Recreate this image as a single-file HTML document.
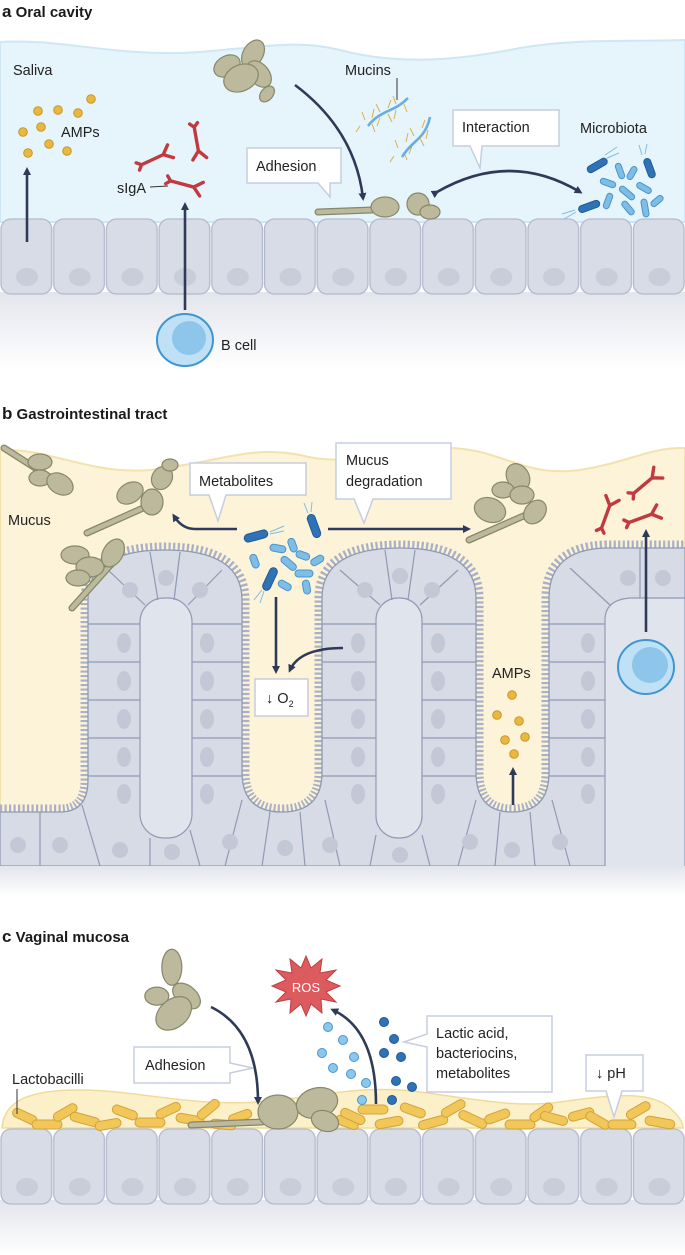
<!DOCTYPE html>
<html><head><meta charset="utf-8"><style>
html,body{margin:0;padding:0;background:#fff}
svg{display:block}
text{font-family:"Liberation Sans",sans-serif;fill:#222}
.t{font-size:15px;font-weight:bold;fill:#1a1a1a}
.l{font-size:14.5px}
.box{fill:#fff;stroke:#c7cde0;stroke-width:1.5}
.arr{fill:none;stroke:#2e3b58;stroke-width:2.6}
.fu{fill:#bcb99c;stroke:#87876a;stroke-width:1.2}
.hy{fill:none;stroke:#87876a;stroke-width:7;stroke-linecap:round}
.hy2{fill:none;stroke:#bcb99c;stroke-width:4.5;stroke-linecap:round}
.ab{fill:none;stroke:#c03a40;stroke-width:3.4;stroke-linecap:round}
.bl{fill:#7dbde6;stroke:#4b95cc;stroke-width:1}
.bd{fill:#2f73b6;stroke:#1f5a96;stroke-width:1}
.lb{fill:#f0c758;stroke:#d3a23a;stroke-width:1}
.y{fill:#e9b83e;stroke:#c8962a;stroke-width:1}
</style></head><body>
<svg width="685" height="1255" viewBox="0 0 685 1255" xmlns="http://www.w3.org/2000/svg">
<defs>
<marker id="ah" markerWidth="8" markerHeight="8" refX="5" refY="4" orient="auto" markerUnits="userSpaceOnUse">
<path d="M0,0 L8,4 L0,8 Z" fill="#2e3b58"/></marker>
<pattern id="cellA" patternUnits="userSpaceOnUse" x="0" y="218" width="52.7" height="77">
<rect x="1" y="1" width="50.7" height="75" rx="10" fill="#d8dce6" stroke="#b3b9cc" stroke-width="1.3"/>
<ellipse cx="27" cy="59" rx="11" ry="9" fill="#c8cdd9"/></pattern>
<pattern id="cellC" patternUnits="userSpaceOnUse" x="0" y="1128" width="52.7" height="77">
<rect x="1" y="1" width="50.7" height="75" rx="10" fill="#d8dce6" stroke="#b3b9cc" stroke-width="1.3"/>
<ellipse cx="27" cy="59" rx="11" ry="9" fill="#c8cdd9"/></pattern>
<linearGradient id="gA" x1="0" y1="0" x2="0" y2="1"><stop offset="0" stop-color="#e2e5ec"/><stop offset="1" stop-color="#fff"/></linearGradient>
<g id="fcl">
<ellipse class="fu" cx="-18" cy="-2" rx="14" ry="10" transform="rotate(-30 -18 -2)"/>
<ellipse class="fu" cx="8" cy="-14" rx="10" ry="15" transform="rotate(30 8 -14)"/>
<ellipse class="fu" cx="14" cy="6" rx="10" ry="15" transform="rotate(-40 14 6)"/>
<ellipse class="fu" cx="-4" cy="10" rx="18" ry="13" transform="rotate(-25 -4 10)"/>
<ellipse class="fu" cx="22" cy="26" rx="6" ry="9" transform="rotate(40 22 26)"/>
</g>
<g id="ab1"><path class="ab" d="M-16,0 L8,0 M8,0 L16,-7 M8,0 L16,7 M-16,0 L-20,-4 M-16,0 L-20,4"/></g>
</defs>

<!-- ===== Panel a ===== -->
<text x="2" y="17" class="t"><tspan font-size="17">a</tspan> Oral cavity</text>
<path d="M0,42 C60,38 120,58 200,52 C270,46 300,40 340,50 C400,66 460,60 520,48 C580,38 630,42 685,40 L685,222 L0,222 Z" fill="#e6f4fc" stroke="#cfe6f5" stroke-width="2"/>
<rect x="0" y="292" width="685" height="78" fill="url(#gA)"/>
<rect x="0" y="218" width="685" height="77" fill="url(#cellA)"/>
<text x="13" y="75" class="l">Saliva</text>
<text x="61" y="137" class="l">AMPs</text>
<g class="y">
<circle cx="91" cy="99" r="4.3"/><circle cx="38" cy="111" r="4.3"/><circle cx="58" cy="110" r="4.3"/><circle cx="78" cy="113" r="4.3"/>
<circle cx="23" cy="132" r="4.3"/><circle cx="41" cy="127" r="4.3"/><circle cx="49" cy="144" r="4.3"/><circle cx="67" cy="151" r="4.3"/><circle cx="28" cy="153" r="4.3"/></g>
<line x1="27" y1="242" x2="27" y2="170" class="arr" marker-end="url(#ah)"/>
<use href="#ab1" transform="translate(197,143) rotate(80)"/>
<use href="#ab1" transform="translate(156,158) rotate(-25)"/>
<use href="#ab1" transform="translate(186,185) rotate(15)"/>
<text x="117" y="193" class="l">sIgA</text><line x1="150" y1="187" x2="168" y2="186" stroke="#333" stroke-width="1"/>
<line x1="185" y1="310" x2="185" y2="205" class="arr" marker-end="url(#ah)"/>
<ellipse cx="185" cy="340" rx="28" ry="26" fill="#bfe0f5" stroke="#3d95d2" stroke-width="2"/>
<ellipse cx="189" cy="338" rx="17" ry="17" fill="#8ec5ea"/>
<text x="221" y="350" class="l">B cell</text>
<use href="#fcl" transform="translate(245,68)"/>
<path d="M295,85 Q355,130 363,198" class="arr" marker-end="url(#ah)"/>
<text x="345" y="75" class="l">Mucins</text>
<line x1="397" y1="78" x2="397" y2="100" stroke="#333" stroke-width="1"/>
<g stroke="#e0ad48" stroke-width="1" fill="none">
<path d="M365,120 l-3,-8 M372,118 l2,-9 M380,112 l-4,-8 M388,108 l3,-8 M396,104 l-3,-8 M372,124 l3,8 M380,118 l-3,8 M388,114 l4,8 M396,110 l-2,9 M404,104 l3,8 M360,126 l-4,6"/>
<path d="M398,148 l-3,-8 M406,142 l2,-9 M414,136 l-4,-8 M422,128 l3,-8 M404,152 l3,8 M412,146 l-3,8 M420,138 l4,8 M428,130 l-2,9 M394,156 l-4,6"/></g>
<path d="M368,126 C380,110 395,112 408,98" stroke="#6aaee0" stroke-width="2.6" fill="none"/>
<path d="M402,157 C412,140 425,140 430,117" stroke="#6aaee0" stroke-width="2.6" fill="none"/>
<path d="M453,110 H559 V146 H482 L480,168 L470,146 H453 Z" class="box"/>
<text x="462" y="132" class="l">Interaction</text>
<text x="580" y="133" class="l">Microbiota</text>
<path d="M437,192 Q510,150 580,192" class="arr" marker-start="url(#ah)" marker-end="url(#ah)"/>
<path d="M247,148 H341 V183 H330 L330,197 L318,183 H247 Z" class="box"/>
<text x="256" y="171" class="l">Adhesion</text>
<path d="M318,212 L372,210" class="hy"/><path d="M318,212 L372,210" class="hy2"/>
<ellipse class="fu" cx="385" cy="207" rx="14" ry="10"/>
<ellipse class="fu" cx="418" cy="204" rx="11" ry="11"/>
<ellipse class="fu" cx="430" cy="212" rx="10" ry="7"/>
<g>
<rect class="bd" x="586" y="162" width="22" height="7" rx="3.5" transform="rotate(-30 597 165)"/>
<rect class="bd" x="640" y="165" width="20" height="7" rx="3.5" transform="rotate(70 650 168)"/>
<rect class="bd" x="578" y="203" width="22" height="7" rx="3.5" transform="rotate(-20 589 206)"/>
<rect class="bl" x="600" y="180" width="16" height="6" rx="3" transform="rotate(20 608 183)"/>
<rect class="bl" x="612" y="168" width="16" height="6" rx="3" transform="rotate(70 620 171)"/>
<rect class="bl" x="625" y="170" width="14" height="6" rx="3" transform="rotate(-60 632 173)"/>
<rect class="bl" x="618" y="190" width="18" height="6" rx="3" transform="rotate(40 627 193)"/>
<rect class="bl" x="636" y="185" width="16" height="6" rx="3" transform="rotate(30 644 188)"/>
<rect class="bl" x="600" y="198" width="16" height="6" rx="3" transform="rotate(-70 608 201)"/>
<rect class="bl" x="620" y="205" width="16" height="6" rx="3" transform="rotate(50 628 208)"/>
<rect class="bl" x="636" y="205" width="18" height="6" rx="3" transform="rotate(80 645 208)"/>
<rect class="bl" x="650" y="198" width="14" height="6" rx="3" transform="rotate(-40 657 201)"/>
</g>
<path d="M605,155 l12,-8 M607,158 l12,-5 M642,155 l-3,-10 M645,154 l2,-10 M575,210 l-13,4 M576,212 l-12,7" stroke="#7dbde6" stroke-width="1" fill="none"/>

<!-- ===== Panel b ===== -->
<text x="2" y="419" class="t"><tspan font-size="17">b</tspan> Gastrointestinal tract</text>
<path d="M0,450 C50,448 90,475 150,470 C220,462 250,445 300,455 C350,468 380,450 440,448 C500,446 520,478 580,470 C630,462 650,447 685,448 L685,866 L0,866 Z" fill="#fdf3d8" stroke="#f2e2ac" stroke-width="2"/>
<path d="M0,812 L60,812 Q88,812 88,780 L88,600 Q88,550 165,550 Q242,550 242,600 L242,772 Q242,812 282,812 Q322,812 322,772 L322,598 Q322,548 400,548 Q476,548 476,598 L476,772 Q476,812 512,812 Q549,812 549,772 L549,598 Q549,550 605,548 L685,548" fill="none" stroke="#a9b1c7" stroke-width="15" stroke-dasharray="2.2 2.3"/>
<path d="M0,812 L60,812 Q88,812 88,780 L88,600 Q88,550 165,550 Q242,550 242,600 L242,772 Q242,812 282,812 Q322,812 322,772 L322,598 Q322,548 400,548 Q476,548 476,598 L476,772 Q476,812 512,812 Q549,812 549,772 L549,598 Q549,550 605,548 L685,548 L685,866 L0,866 Z" fill="#d6dbe6" stroke="#8f9ab5" stroke-width="1.3"/>
<rect x="0" y="866" width="685" height="30" fill="url(#gA)"/>
<rect x="140" y="598" width="52" height="240" rx="24" fill="#e0e4ec" stroke="#8f9ab5" stroke-width="1.2"/>
<rect x="376" y="598" width="46" height="240" rx="22" fill="#e0e4ec" stroke="#8f9ab5" stroke-width="1.2"/>
<path d="M605,866 L605,620 Q605,600 630,598 L685,598 L685,866" fill="#e0e4ec" stroke="#8f9ab5" stroke-width="1.2"/>
<g stroke="#8f9ab5" stroke-width="1.2">
<line x1="88" y1="624" x2="140" y2="624"/><line x1="88" y1="662" x2="140" y2="662"/><line x1="88" y1="700" x2="140" y2="700"/><line x1="88" y1="738" x2="140" y2="738"/><line x1="88" y1="776" x2="140" y2="776"/>
<line x1="192" y1="624" x2="242" y2="624"/><line x1="192" y1="662" x2="242" y2="662"/><line x1="192" y1="700" x2="242" y2="700"/><line x1="192" y1="738" x2="242" y2="738"/><line x1="192" y1="776" x2="242" y2="776"/>
<line x1="322" y1="624" x2="376" y2="624"/><line x1="322" y1="662" x2="376" y2="662"/><line x1="322" y1="700" x2="376" y2="700"/><line x1="322" y1="738" x2="376" y2="738"/><line x1="322" y1="776" x2="376" y2="776"/>
<line x1="422" y1="624" x2="476" y2="624"/><line x1="422" y1="662" x2="476" y2="662"/><line x1="422" y1="700" x2="476" y2="700"/><line x1="422" y1="738" x2="476" y2="738"/><line x1="422" y1="776" x2="476" y2="776"/>
<line x1="549" y1="624" x2="605" y2="624"/><line x1="549" y1="662" x2="605" y2="662"/><line x1="549" y1="700" x2="605" y2="700"/><line x1="549" y1="738" x2="605" y2="738"/><line x1="549" y1="776" x2="605" y2="776"/>
<line x1="150" y1="552" x2="158" y2="600"/><line x1="180" y1="552" x2="174" y2="600"/><line x1="108" y1="570" x2="145" y2="605"/><line x1="222" y1="570" x2="188" y2="605"/>
<line x1="385" y1="550" x2="392" y2="600"/><line x1="415" y1="550" x2="408" y2="600"/><line x1="340" y1="570" x2="380" y2="605"/><line x1="458" y1="570" x2="420" y2="605"/>
<line x1="640" y1="548" x2="640" y2="598"/><line x1="570" y1="568" x2="610" y2="605"/>
<line x1="40" y1="812" x2="40" y2="866"/><line x1="82" y1="805" x2="100" y2="866"/><line x1="150" y1="838" x2="150" y2="866"/><line x1="190" y1="830" x2="200" y2="866"/><line x1="242" y1="800" x2="225" y2="866"/><line x1="270" y1="812" x2="262" y2="866"/><line x1="300" y1="812" x2="305" y2="866"/><line x1="325" y1="800" x2="340" y2="866"/><line x1="376" y1="835" x2="370" y2="866"/><line x1="422" y1="835" x2="430" y2="866"/><line x1="476" y1="800" x2="458" y2="866"/><line x1="500" y1="812" x2="495" y2="866"/><line x1="530" y1="812" x2="535" y2="866"/><line x1="552" y1="800" x2="570" y2="866"/></g>
<g fill="#c2c8d6">
<ellipse cx="124" cy="643" rx="7" ry="10"/><ellipse cx="124" cy="681" rx="7" ry="10"/><ellipse cx="124" cy="719" rx="7" ry="10"/><ellipse cx="124" cy="757" rx="7" ry="10"/><ellipse cx="124" cy="794" rx="7" ry="10"/>
<ellipse cx="207" cy="643" rx="7" ry="10"/><ellipse cx="207" cy="681" rx="7" ry="10"/><ellipse cx="207" cy="719" rx="7" ry="10"/><ellipse cx="207" cy="757" rx="7" ry="10"/><ellipse cx="207" cy="794" rx="7" ry="10"/>
<ellipse cx="358" cy="643" rx="7" ry="10"/><ellipse cx="358" cy="681" rx="7" ry="10"/><ellipse cx="358" cy="719" rx="7" ry="10"/><ellipse cx="358" cy="757" rx="7" ry="10"/><ellipse cx="358" cy="794" rx="7" ry="10"/>
<ellipse cx="438" cy="643" rx="7" ry="10"/><ellipse cx="438" cy="681" rx="7" ry="10"/><ellipse cx="438" cy="719" rx="7" ry="10"/><ellipse cx="438" cy="757" rx="7" ry="10"/><ellipse cx="438" cy="794" rx="7" ry="10"/>
<ellipse cx="588" cy="643" rx="7" ry="10"/><ellipse cx="588" cy="681" rx="7" ry="10"/><ellipse cx="588" cy="719" rx="7" ry="10"/><ellipse cx="588" cy="757" rx="7" ry="10"/><ellipse cx="588" cy="794" rx="7" ry="10"/>
<ellipse cx="166" cy="578" rx="8" ry="8"/><ellipse cx="130" cy="590" rx="8" ry="8"/><ellipse cx="200" cy="590" rx="8" ry="8"/>
<ellipse cx="400" cy="576" rx="8" ry="8"/><ellipse cx="365" cy="590" rx="8" ry="8"/><ellipse cx="432" cy="590" rx="8" ry="8"/>
<ellipse cx="628" cy="578" rx="8" ry="8"/><ellipse cx="663" cy="578" rx="8" ry="8"/>
<ellipse cx="18" cy="845" rx="8" ry="8"/><ellipse cx="60" cy="845" rx="8" ry="8"/><ellipse cx="120" cy="850" rx="8" ry="8"/><ellipse cx="172" cy="852" rx="8" ry="8"/><ellipse cx="230" cy="842" rx="8" ry="8"/><ellipse cx="285" cy="848" rx="8" ry="8"/><ellipse cx="330" cy="845" rx="8" ry="8"/><ellipse cx="400" cy="855" rx="8" ry="8"/><ellipse cx="470" cy="842" rx="8" ry="8"/><ellipse cx="512" cy="850" rx="8" ry="8"/><ellipse cx="560" cy="842" rx="8" ry="8"/></g>
<text x="8" y="525" class="l">Mucus</text>
<path d="M4,448 L62,485" class="hy"/><path d="M4,448 L62,485" class="hy2"/>
<ellipse class="fu" cx="40" cy="462" rx="12" ry="8"/><ellipse class="fu" cx="40" cy="478" rx="11" ry="8"/><ellipse class="fu" cx="60" cy="484" rx="14" ry="10" transform="rotate(30 60 484)"/>
<path d="M87,533 L150,505" class="hy"/><path d="M87,533 L150,505" class="hy2"/>
<ellipse class="fu" cx="130" cy="493" rx="14" ry="10" transform="rotate(-30 130 493)"/>
<ellipse class="fu" cx="152" cy="502" rx="11" ry="13"/><ellipse class="fu" cx="162" cy="478" rx="10" ry="12" transform="rotate(30 162 478)"/><ellipse class="fu" cx="170" cy="465" rx="8" ry="6"/>
<path d="M72,608 L115,560" class="hy"/><path d="M72,608 L115,560" class="hy2"/>
<ellipse class="fu" cx="75" cy="555" rx="14" ry="9"/><ellipse class="fu" cx="90" cy="567" rx="14" ry="10"/><ellipse class="fu" cx="78" cy="578" rx="12" ry="8"/><ellipse class="fu" cx="113" cy="553" rx="10" ry="15" transform="rotate(30 113 553)"/>
<path d="M469,540 L528,514" class="hy"/><path d="M469,540 L528,514" class="hy2"/>
<ellipse class="fu" cx="518" cy="477" rx="11" ry="14" transform="rotate(-30 518 477)"/><ellipse class="fu" cx="503" cy="490" rx="11" ry="8"/><ellipse class="fu" cx="522" cy="495" rx="12" ry="9"/><ellipse class="fu" cx="490" cy="510" rx="16" ry="12" transform="rotate(20 490 510)"/><ellipse class="fu" cx="535" cy="512" rx="10" ry="13" transform="rotate(40 535 512)"/>
<path d="M190,463 H306 V495 H226 L218,521 L209,495 H190 Z" class="box"/>
<text x="199" y="486" class="l">Metabolites</text>
<path d="M336,443 H451 V499 H373 L364,523 L354,499 H336 Z" class="box"/>
<text x="346" y="465" class="l">Mucus</text><text x="346" y="486" class="l">degradation</text>
<path d="M237,529 H195 Q182,529 174,516" class="arr" marker-end="url(#ah)"/>
<line x1="328" y1="529" x2="468" y2="529" class="arr" marker-end="url(#ah)"/>
<g>
<rect class="bd" x="244" y="532" width="24" height="8" rx="4" transform="rotate(-15 256 536)"/>
<rect class="bd" x="302" y="522" width="24" height="8" rx="4" transform="rotate(70 314 526)"/>
<rect class="bd" x="258" y="575" width="24" height="8" rx="4" transform="rotate(-65 270 579)"/>
<rect class="bl" x="270" y="545" width="16" height="7" rx="3.5" transform="rotate(10 278 548)"/>
<rect class="bl" x="286" y="542" width="14" height="7" rx="3.5" transform="rotate(70 293 545)"/>
<rect class="bl" x="296" y="552" width="14" height="7" rx="3.5" transform="rotate(20 303 555)"/>
<rect class="bl" x="248" y="558" width="14" height="7" rx="3.5" transform="rotate(70 255 561)"/>
<rect class="bl" x="280" y="560" width="18" height="7" rx="3.5" transform="rotate(40 289 563)"/>
<rect class="bl" x="310" y="557" width="14" height="7" rx="3.5" transform="rotate(-30 317 560)"/>
<rect class="bl" x="295" y="570" width="18" height="7" rx="3.5" transform="rotate(0 304 573)"/>
<rect class="bl" x="278" y="582" width="14" height="7" rx="3.5" transform="rotate(30 285 585)"/>
<rect class="bl" x="300" y="584" width="14" height="7" rx="3.5" transform="rotate(80 307 587)"/>
</g>
<path d="M270,532 l14,-6 M270,534 l14,-3 M308,513 l-4,-10 M311,512 l1,-10 M262,590 l-8,10 M264,591 l-4,12" stroke="#7dbde6" stroke-width="1" fill="none"/>
<line x1="276" y1="597" x2="276" y2="671" class="arr" marker-end="url(#ah)"/>
<path d="M343,648 Q300,648 290,670" class="arr" marker-end="url(#ah)"/>
<rect x="255" y="679" width="53" height="37" class="box"/>
<text x="266" y="703" class="l">↓ O<tspan font-size="9" dy="4">2</tspan></text>
<use href="#ab1" transform="translate(607,513) rotate(-70)"/>
<use href="#ab1" transform="translate(646,483) rotate(-40)"/>
<use href="#ab1" transform="translate(644,517) rotate(-20)"/>
<line x1="646" y1="632" x2="646" y2="532" class="arr" marker-end="url(#ah)"/>
<ellipse cx="646" cy="667" rx="28" ry="27" fill="#bfe0f5" stroke="#3d95d2" stroke-width="2"/>
<ellipse cx="650" cy="665" rx="18" ry="18" fill="#8ec5ea"/>
<text x="492" y="678" class="l">AMPs</text>
<g class="y"><circle cx="512" cy="695" r="4.3"/><circle cx="497" cy="715" r="4.3"/><circle cx="519" cy="721" r="4.3"/><circle cx="505" cy="740" r="4.3"/><circle cx="525" cy="737" r="4.3"/><circle cx="514" cy="754" r="4.3"/></g>
<line x1="513" y1="805" x2="513" y2="770" class="arr" marker-end="url(#ah)"/>

<!-- ===== Panel c ===== -->
<text x="2" y="942" class="t"><tspan font-size="17">c</tspan> Vaginal mucosa</text>
<path d="M2,1128 C4,1100 30,1090 80,1090 C140,1090 200,1110 280,1100 C330,1094 370,1085 420,1092 C480,1100 520,1108 560,1102 C610,1095 650,1090 670,1108 C678,1115 683,1122 683,1128 Z" fill="#fcf0c8" stroke="#efdb98" stroke-width="1.5"/>
<rect x="0" y="1200" width="685" height="55" fill="url(#gA)"/>
<rect x="0" y="1128" width="685" height="77" fill="url(#cellC)"/>
<g>
<rect class="lb" x="12" y="1112" width="26" height="9" rx="4.5" transform="rotate(25 25 1116)"/>
<rect class="lb" x="32" y="1120" width="30" height="9" rx="4.5"/>
<rect class="lb" x="52" y="1108" width="26" height="9" rx="4.5" transform="rotate(-30 65 1112)"/>
<rect class="lb" x="70" y="1115" width="30" height="9" rx="4.5" transform="rotate(15 85 1119)"/>
<rect class="lb" x="95" y="1120" width="26" height="9" rx="4.5" transform="rotate(-10 108 1124)"/>
<rect class="lb" x="112" y="1108" width="26" height="9" rx="4.5" transform="rotate(20 125 1112)"/>
<rect class="lb" x="135" y="1118" width="30" height="9" rx="4.5"/>
<rect class="lb" x="155" y="1106" width="26" height="9" rx="4.5" transform="rotate(-25 168 1110)"/>
<rect class="lb" x="176" y="1115" width="28" height="9" rx="4.5" transform="rotate(10 190 1119)"/>
<rect class="lb" x="195" y="1105" width="26" height="9" rx="4.5" transform="rotate(-40 208 1109)"/>
<rect class="lb" x="210" y="1120" width="26" height="9" rx="4.5" transform="rotate(5 223 1124)"/>
<rect class="lb" x="228" y="1112" width="24" height="9" rx="4.5" transform="rotate(-20 240 1116)"/>
<rect class="lb" x="335" y="1118" width="24" height="9" rx="4.5" transform="rotate(20 347 1122)"/>
<rect class="lb" x="340" y="1112" width="26" height="9" rx="4.5" transform="rotate(25 353 1116)"/>
<rect class="lb" x="358" y="1105" width="30" height="9" rx="4.5"/>
<rect class="lb" x="375" y="1118" width="28" height="9" rx="4.5" transform="rotate(-10 389 1122)"/>
<rect class="lb" x="400" y="1106" width="26" height="9" rx="4.5" transform="rotate(20 413 1110)"/>
<rect class="lb" x="418" y="1118" width="30" height="9" rx="4.5" transform="rotate(-15 433 1122)"/>
<rect class="lb" x="440" y="1104" width="26" height="9" rx="4.5" transform="rotate(-30 453 1108)"/>
<rect class="lb" x="458" y="1115" width="30" height="9" rx="4.5" transform="rotate(25 473 1119)"/>
<rect class="lb" x="484" y="1112" width="26" height="9" rx="4.5" transform="rotate(-20 497 1116)"/>
<rect class="lb" x="505" y="1120" width="30" height="9" rx="4.5"/>
<rect class="lb" x="528" y="1108" width="26" height="9" rx="4.5" transform="rotate(-35 541 1112)"/>
<rect class="lb" x="540" y="1114" width="28" height="9" rx="4.5" transform="rotate(15 554 1118)"/>
<rect class="lb" x="568" y="1110" width="26" height="9" rx="4.5" transform="rotate(-15 581 1114)"/>
<rect class="lb" x="585" y="1116" width="26" height="9" rx="4.5" transform="rotate(30 598 1120)"/>
<rect class="lb" x="608" y="1120" width="28" height="9" rx="4.5"/>
<rect class="lb" x="625" y="1106" width="26" height="9" rx="4.5" transform="rotate(-30 638 1110)"/>
<rect class="lb" x="645" y="1118" width="30" height="9" rx="4.5" transform="rotate(10 660 1122)"/>
</g>
<text x="12" y="1084" class="l">Lactobacilli</text>
<line x1="17" y1="1089" x2="17" y2="1114" stroke="#333" stroke-width="1"/>
<path d="M191,1125 L262,1122" class="hy"/><path d="M191,1125 L262,1122" class="hy2"/>
<ellipse class="fu" cx="278" cy="1112" rx="20" ry="17"/>
<ellipse class="fu" cx="317" cy="1103" rx="21" ry="15" transform="rotate(-15 317 1103)"/>
<ellipse class="fu" cx="325" cy="1121" rx="14" ry="10" transform="rotate(20 325 1121)"/>
<g transform="translate(172,997) rotate(-20)">
<ellipse class="fu" cx="10" cy="-28" rx="10" ry="18" transform="rotate(20 10 -28)"/>
<ellipse class="fu" cx="-14" cy="-6" rx="12" ry="9" transform="rotate(20 -14 -6)"/>
<ellipse class="fu" cx="14" cy="4" rx="10" ry="16" transform="rotate(-30 14 4)"/>
<ellipse class="fu" cx="-4" cy="16" rx="20" ry="14" transform="rotate(-20 -4 16)"/>
</g>
<path d="M211,1007 Q258,1030 258,1102" class="arr" marker-end="url(#ah)"/>
<path d="M134,1047 H230 V1063 L253,1068 L230,1073 V1083 H134 Z" class="box"/>
<text x="145" y="1070" class="l">Adhesion</text>
<polygon points="306,956 311,968 322,959 320,973 336,970 326,980 340,986 326,992 336,1002 321,999 322,1013 311,1004 306,1016 301,1004 290,1013 291,999 276,1002 286,992 272,986 286,980 276,970 292,973 290,959 301,968" fill="#dc5b5e" stroke="#c13e43" stroke-width="1"/>
<text x="306" y="992" font-size="13" text-anchor="middle" style="fill:#fff">ROS</text>
<path d="M376,1104 Q376,1030 333,1010" class="arr" marker-end="url(#ah)"/>
<g fill="#8cc8ee" stroke="#4b95cc" stroke-width="1">
<circle cx="328" cy="1027" r="4.5"/><circle cx="343" cy="1040" r="4.5"/><circle cx="322" cy="1053" r="4.5"/><circle cx="354" cy="1057" r="4.5"/><circle cx="333" cy="1068" r="4.5"/><circle cx="351" cy="1074" r="4.5"/><circle cx="366" cy="1083" r="4.5"/><circle cx="362" cy="1100" r="4.5"/></g>
<g fill="#2f73b6" stroke="#1f5a96" stroke-width="1">
<circle cx="384" cy="1022" r="4.5"/><circle cx="394" cy="1039" r="4.5"/><circle cx="384" cy="1053" r="4.5"/><circle cx="401" cy="1057" r="4.5"/><circle cx="396" cy="1081" r="4.5"/><circle cx="412" cy="1087" r="4.5"/><circle cx="392" cy="1100" r="4.5"/></g>
<path d="M427,1016 H552 V1092 H427 V1047 L404,1042 L427,1034 Z" class="box"/>
<text x="436" y="1038" class="l">Lactic acid,</text>
<text x="436" y="1058" class="l">bacteriocins,</text>
<text x="436" y="1078" class="l">metabolites</text>
<path d="M586,1055 H643 V1091 H622 L614,1117 L606,1091 H586 Z" class="box"/>
<text x="596" y="1078" class="l">↓ pH</text>
</svg>
</body></html>
